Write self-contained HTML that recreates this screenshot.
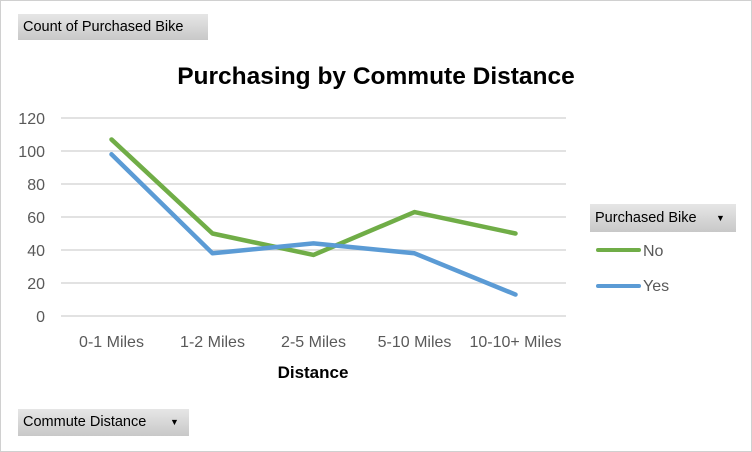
<!DOCTYPE html>
<html><head><style>
body{margin:0;width:752px;height:452px;overflow:hidden;background:#fff;font-family:"Liberation Sans",Calibri,sans-serif;}
.btn{position:absolute;background:linear-gradient(#e6e6e6,#c8c8c8);font-size:14.5px;color:#000;box-sizing:border-box;padding-left:5px;line-height:26px;}
</style></head><body>
<div style="position:absolute;left:0;top:0;width:750px;height:450px;border:1px solid #d0d0d0;"></div>
<div class="btn" style="left:18px;top:14px;width:190px;height:26px;">Count of Purchased Bike</div>
<div class="btn" style="left:18px;top:409px;width:171px;height:27px;">Commute Distance<span style="position:absolute;left:152px;top:0;font-size:9px;">▼</span></div>
<div class="btn" style="left:590px;top:204px;width:146px;height:28px;line-height:28px;">Purchased Bike<span style="position:absolute;left:126px;top:0;font-size:9px;">▼</span></div>
<svg id="c" width="752" height="452" style="position:absolute;left:0;top:0">
<text x="376" y="84" text-anchor="middle" font-size="24.5" font-weight="bold" fill="#000" font-family="Liberation Sans, sans-serif">Purchasing by Commute Distance</text>
<text x="313" y="378" text-anchor="middle" font-size="17" font-weight="bold" fill="#000" font-family="Liberation Sans, sans-serif">Distance</text>
<g id="g"></g>
<line x1="598" y1="250" x2="639" y2="250" stroke="#70ad47" stroke-width="4" stroke-linecap="round"/>
<text x="643" y="256" font-size="16" fill="#595959" font-family="Liberation Sans, sans-serif">No</text>
<line x1="598" y1="286" x2="639" y2="286" stroke="#5b9bd5" stroke-width="4" stroke-linecap="round"/>
<text x="643" y="291" font-size="16" fill="#595959" font-family="Liberation Sans, sans-serif">Yes</text>
</svg>
<script>
const categories=["0-1 Miles","1-2 Miles","2-5 Miles","5-10 Miles","10-10+ Miles"];
const noValues=[107,50,37,63,50];
const yesValues=[98,38,44,38,13];
const yTicks=[0,20,40,60,80,100,120];
const NS="http://www.w3.org/2000/svg",g=document.getElementById('g');
const x0=61,x1=566,y0=316,y1=118,yMax=120;
const xs=i=>x0+(x1-x0)/categories.length*(i+0.5);
const ys=v=>y0-(y0-y1)*v/yMax;
function mk(t,a){const e=document.createElementNS(NS,t);for(const k in a)e.setAttribute(k,a[k]);g.appendChild(e);return e;}
yTicks.forEach(t=>{
const l=mk('line',{x1:x0,x2:x1,y1:ys(t),y2:ys(t),stroke:'#d9d9d9','stroke-width':1.5});


const tx=mk('text',{x:45,y:ys(t)+6,'text-anchor':'end','font-size':16,fill:'#595959','font-family':'Liberation Sans, sans-serif'});
tx.textContent=t;


});
categories.forEach((c,i)=>{
const tx=mk('text',{x:xs(i),y:347,'text-anchor':'middle','font-size':16,fill:'#595959','font-family':'Liberation Sans, sans-serif'});
tx.textContent=c;


});
function series(vals,col,name){
const p=mk('polyline',{points:vals.map((v,i)=>xs(i)+','+ys(v)).join(' '),fill:'none',stroke:col,'stroke-width':4.5,'stroke-linecap':'round','stroke-linejoin':'round'});


}
series(noValues,'#70ad47','series-no-line');
series(yesValues,'#5b9bd5','series-yes-line');
</script>
</body></html>
